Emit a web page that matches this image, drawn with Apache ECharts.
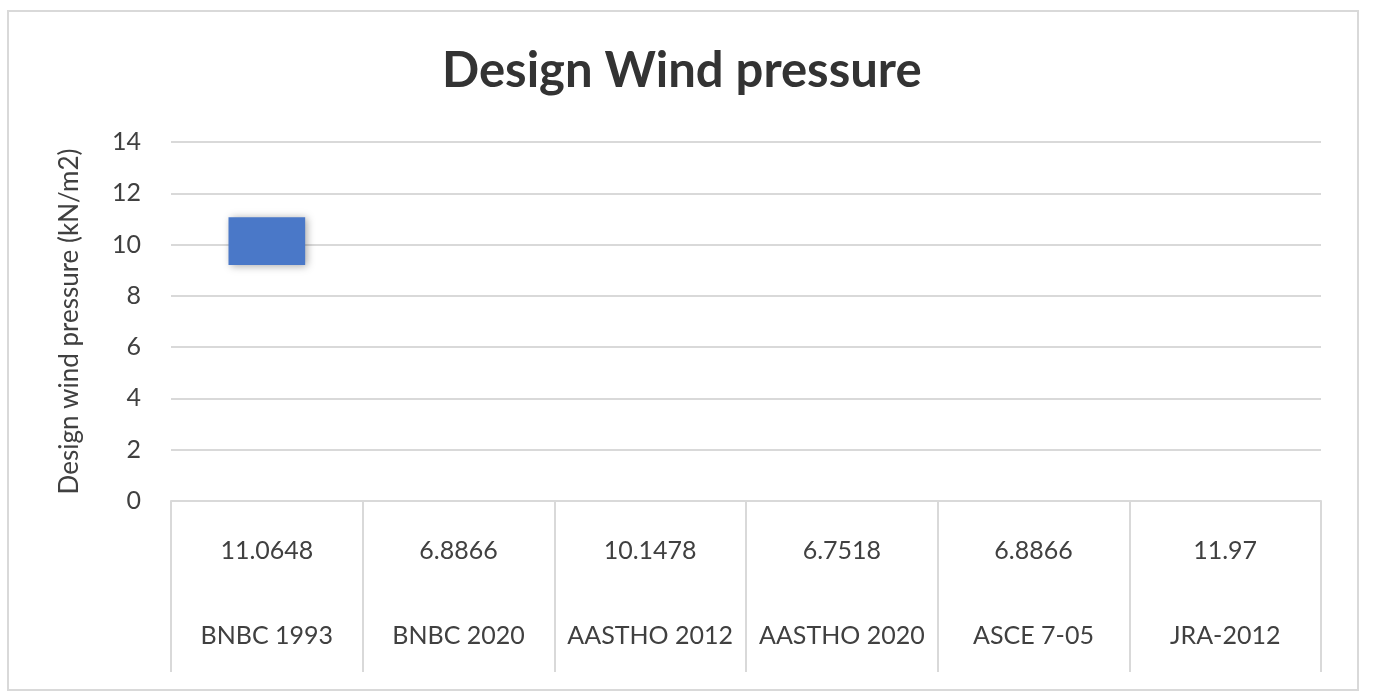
<!DOCTYPE html>
<html>
<head>
<meta charset="utf-8">
<script src="https://cdn.jsdelivr.net/npm/echarts@6/dist/echarts.min.js"></script>
<style>
html,body{margin:0;padding:0;background:#fff;}
#chart{width:1379px;height:700px;}
</style>
</head>
<body>
<div id="chart"></div>
<script>
const categories = ['BNBC 1993', 'BNBC 2020', 'AASTHO 2012', 'AASTHO 2020', 'ASCE 7-05', 'JRA-2012'];
const valueLabels = ['11.0648', '6.8866', '10.1478', '6.7518', '6.8866', '11.97'];
const barLow = [9.2, null, null, null, null, null];
const barHigh = [11.0648, null, null, null, null, null];
const yTicks = [0, 2, 4, 6, 8, 10, 12, 14];

const FONT = 'Lato, "Open Sans", sans-serif';
const chart = echarts.init(document.getElementById('chart'));

const barData = [];
categories.forEach((c, i) => {
  if (barLow[i] != null && barHigh[i] != null) barData.push([i, barLow[i], barHigh[i]]);
});

chart.setOption({
  animation: false,
  backgroundColor: '#fff',
  graphic: [{
    type: 'rect',
    shape: {x: 8, y: 11, width: 1350, height: 679},
    style: {fill: 'none', stroke: '#d9d9d9', lineWidth: 2},
    silent: true
  }],
  title: {
    text: 'Design Wind pressure',
    left: 437,
    top: 42,
    textStyle: {fontFamily: FONT, fontSize: 49, fontWeight: 'bold', color: '#333333'}
  },
  grid: {left: 171, right: 58, top: 142, bottom: 199},
  xAxis: {
    type: 'category',
    data: categories,
    axisLine: {show: true, lineStyle: {color: '#d9d9d9', width: 2}},
    axisTick: {show: true, length: 171, lineStyle: {color: '#d9d9d9', width: 2}},
    axisLabel: {
      margin: 7,
      interval: 0,
      formatter: function (v, i) { return '{v|' + valueLabels[i] + '}\n{n|' + v + '}'; },
      rich: {
        v: {fontFamily: FONT, fontSize: 25, color: '#404040', lineHeight: 85, align: 'center'},
        n: {fontFamily: FONT, fontSize: 25, color: '#404040', lineHeight: 85, align: 'center'}
      }
    },
    splitLine: {show: false}
  },
  yAxis: {
    type: 'value',
    min: yTicks[0],
    max: yTicks[yTicks.length - 1],
    interval: 2,
    name: 'Design wind pressure (kN/m2)',
    nameLocation: 'middle',
    nameGap: 88,
    nameTextStyle: {fontFamily: FONT, fontSize: 26, color: '#404040'},
    axisLine: {show: false},
    axisTick: {show: false},
    axisLabel: {fontFamily: FONT, fontSize: 25, color: '#404040', margin: 30},
    splitLine: {lineStyle: {color: '#d9d9d9', width: 2}}
  },
  series: [{
    type: 'custom',
    data: barData,
    encode: {x: 0, y: [1, 2]},
    renderItem: function (params, api) {
      const x = api.value(0);
      const p0 = api.coord([x, api.value(1)]);
      const p1 = api.coord([x, api.value(2)]);
      const w = api.size([1, 0])[0] * 0.4;
      return {
        type: 'rect',
        shape: {x: p0[0] - w / 2, y: p1[1], width: w, height: p0[1] - p1[1]},
        style: {fill: '#4a78c8', shadowBlur: 8, shadowColor: 'rgba(0,0,0,0.35)', shadowOffsetX: 2, shadowOffsetY: 1}
      };
    }
  }]
});
</script>
</body>
</html>
